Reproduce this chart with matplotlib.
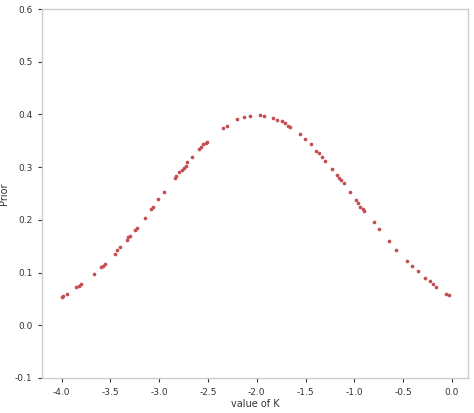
import numpy as np
import matplotlib.pyplot as plt

# values of K and prior
k_vals = [-4.00, -3.98, -3.94, -3.85, -3.82, -3.80, -3.67, -3.60, -3.58, -3.55,
          -3.45, -3.43, -3.40, -3.33, -3.32, -3.30, -3.25, -3.23, -3.15, -3.08,
          -3.06, -3.01, -2.95, -2.84, -2.83, -2.80, -2.77, -2.75, -2.73, -2.71,
          -2.66, -2.59, -2.57, -2.55, -2.52, -2.51, -2.35, -2.31, -2.20, -2.13,
          -2.07, -1.97, -1.93, -1.83, -1.79, -1.74, -1.71, -1.68, -1.66, -1.56,
          -1.51, -1.44, -1.39, -1.36, -1.33, -1.30, -1.23, -1.18, -1.16, -1.14,
          -1.11, -1.05, -0.98, -0.96, -0.94, -0.91, -0.90, -0.80, -0.75, -0.65,
          -0.57, -0.46, -0.41, -0.35, -0.28, -0.23, -0.19, -0.16, -0.06, -0.03]
prior = [0.053, 0.0555, 0.059, 0.072, 0.074, 0.079, 0.097, 0.110, 0.113, 0.117,
         0.136, 0.143, 0.148, 0.162, 0.167, 0.170, 0.180, 0.184, 0.204, 0.220,
         0.225, 0.239, 0.253, 0.280, 0.284, 0.291, 0.295, 0.299, 0.303, 0.310,
         0.319, 0.335, 0.339, 0.343, 0.346, 0.348, 0.375, 0.379, 0.391, 0.395,
         0.3975, 0.399, 0.3975, 0.393, 0.390, 0.387, 0.383, 0.379, 0.377, 0.362,
         0.354, 0.343, 0.331, 0.327, 0.319, 0.311, 0.296, 0.285, 0.280, 0.276,
         0.269, 0.252, 0.237, 0.232, 0.225, 0.220, 0.216, 0.196, 0.183, 0.160,
         0.143, 0.122, 0.113, 0.102, 0.090, 0.083, 0.078, 0.073, 0.060, 0.057]

fig = plt.figure(figsize=(4.74, 4.13), dpi=100)
ax = fig.add_axes([0.0886, 0.085, 0.898, 0.893])

ax.scatter(k_vals, prior, s=7, color='#c44e52', linewidths=0, zorder=3)

ax.set_xlim(-4.2, 0.16)
ax.set_ylim(-0.1, 0.6)
ax.set_xticks(np.arange(-4.0, 0.01, 0.5))
ax.set_yticks(np.arange(-0.1, 0.61, 0.1))
ax.set_xticklabels(['%.1f' % t for t in np.arange(-4.0, 0.01, 0.5)])
ax.set_yticklabels(['%.1f' % t for t in np.arange(-0.1, 0.61, 0.1)])

for sp in ax.spines.values():
    sp.set_color('#cccccc')
    sp.set_linewidth(1.0)
ax.tick_params(direction='out', length=3, width=0.8, color='#333333',
               labelsize=6.5, labelcolor='#333333', pad=4)

ax.set_xlabel('value of K', fontsize=7, color='#333333', labelpad=2)
ax.set_ylabel('Prior', fontsize=7, color='#333333', labelpad=4)

fig.savefig('out.png', dpi=100, facecolor='white')
